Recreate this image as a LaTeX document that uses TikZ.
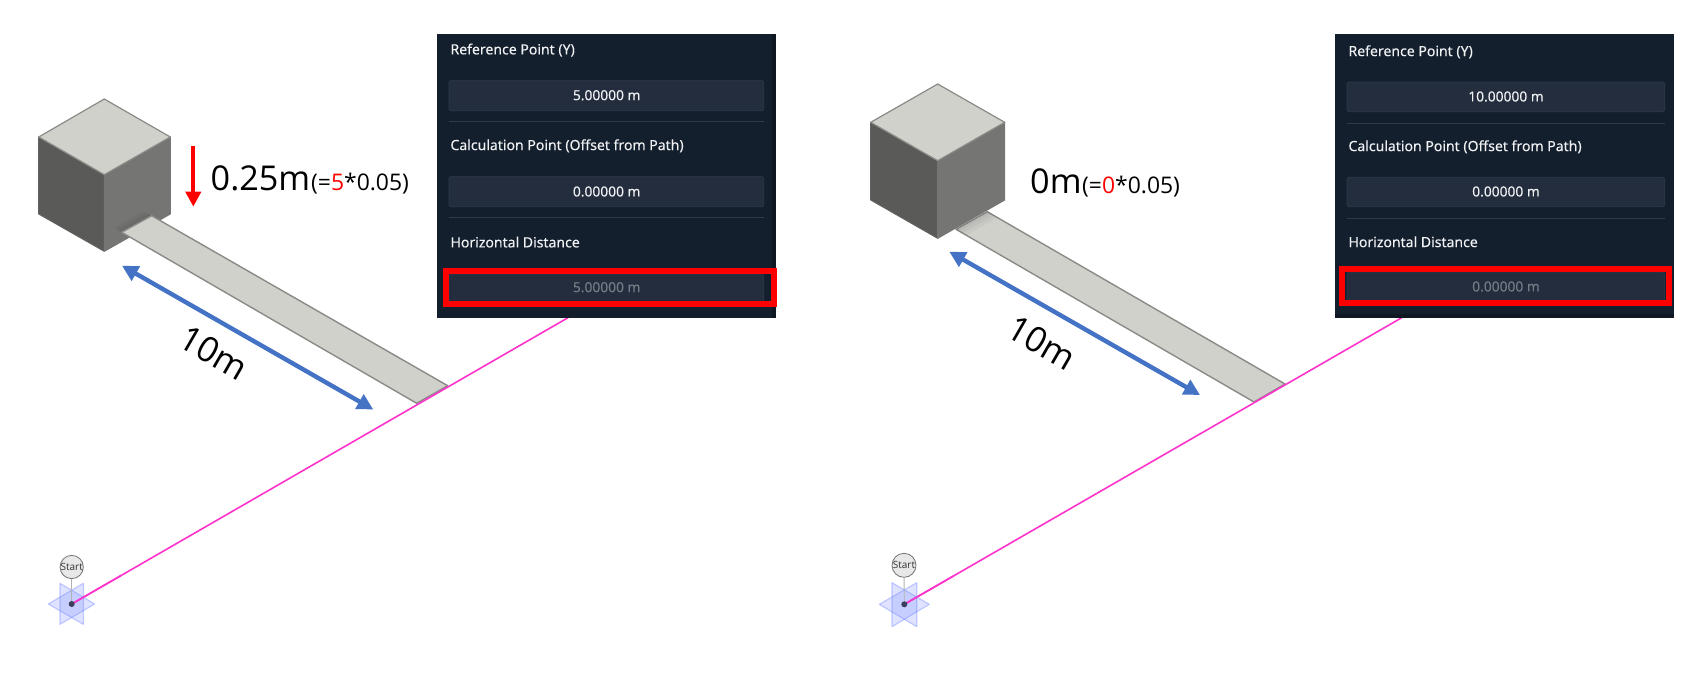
\documentclass[tikz,border=0pt]{standalone}
\usepackage{fontspec}
\setmainfont{Open Sans}
\newfontfamily\uifont{Noto Sans}[FakeBold=0.12]
\usetikzlibrary{arrows.meta,calc}
\definecolor{panelbg}{HTML}{141F2E}
\definecolor{paneledge}{HTML}{0E1722}
\definecolor{fieldbg}{HTML}{232D3E}
\definecolor{fieldline}{HTML}{2E3949}
\definecolor{uitext}{HTML}{F0F1F3}
\definecolor{uidim}{HTML}{737B85}
\definecolor{topface}{HTML}{D0D1CB}
\definecolor{leftface}{HTML}{5A5A59}
\definecolor{rightface}{HTML}{757573}
\definecolor{cubeedge}{HTML}{8A8B87}
\definecolor{bluearrow}{HTML}{4472C4}
\definecolor{pathpink}{HTML}{FF33CC}
\definecolor{starblue}{HTML}{6E84FF}
\definecolor{dotcolor}{HTML}{3A3F5C}
\tikzset{
  x=1pt,y=-1pt,
  topstyle/.style={fill=topface,draw=cubeedge,line width=1.2pt,line join=round},
  leftstyle/.style={fill=leftface,draw=cubeedge!70!black,line width=1pt,line join=round},
  rightstyle/.style={fill=rightface,draw=cubeedge!85!black,line width=1pt,line join=round},
  slabstyle/.style={fill=topface,draw=cubeedge,line width=1.4pt,line join=round},
  contactshade/.style={fill=black,fill opacity=.035,draw=none},
  pathline/.style={draw=pathpink,line width=1.6pt},
  dimarrow/.style={draw=bluearrow,line width=4.4pt,{Triangle[length=16pt,width=16pt]}-{Triangle[length=16pt,width=16pt]}},
  downarrow/.style={draw=red,line width=4.3pt,-{Triangle[length=15pt,width=15pt]}},
  panelbox/.style={fill=panelbg,draw=none},
  fieldbox/.style={fill=fieldbg,draw=fieldline,line width=.7pt,rounded corners=1.5pt},
  dividerline/.style={draw=fieldline,line width=1pt},
  redframe/.style={draw=red,line width=6pt},
  uilabel/.style={font=\uifont\fontsize{14.05}{16}\selectfont,text=uitext,anchor=west,inner sep=0pt,yshift=-.8pt},
  uivalue/.style={font=\uifont\fontsize{13.8}{16}\selectfont,text=uitext,inner sep=0pt,yshift=-.5pt},
  uidimval/.style={uivalue,text=uidim},
  bigtext/.style={font=\fontsize{34.2}{38}\selectfont,text=black,inner sep=0pt,anchor=base west},
  smalltext/.style={font=\fontsize{22.9}{26}\selectfont,text=black,inner sep=0pt,anchor=base west},
  dimtext/.style={font=\fontsize{35}{38}\selectfont,text=black,inner sep=0pt,rotate=-30},
  startbubble/.style={circle,draw=black!55,fill=black!9,line width=.8pt,inner sep=0pt,font=\fontsize{10}{11}\selectfont,text=black!80},
  stardot/.style={circle,fill=dotcolor,inner sep=0pt,minimum size=6pt},
  starfill/.style={fill=starblue,fill opacity=.22,draw=starblue,draw opacity=.4,line width=1.1pt,line join=round},
  stemline/.style={draw=black!30,line width=.9pt},
}
\begin{document}
\begin{tikzpicture}
\useasboundingbox (0,0) rectangle (1694,678);
\fill[white] (0,0) rectangle (1694,678);

% ---------- LEFT ----------
\coordinate (La) at (104.3,99);
\coordinate (Lb) at (38.7,137);
\coordinate (Lc) at (104.3,174.7);
\coordinate (Ld) at (170.3,137);
\coordinate (Le) at (38.7,214);
\coordinate (Lf) at (104.3,251.3);
\coordinate (Lg) at (170.3,214);
\path[leftstyle] (Lb) -- (Lc) -- (Lf) -- (Le) -- cycle;
\path[rightstyle] (Lc) -- (Ld) -- (Lg) -- (Lf) -- cycle;
\path[topstyle] (La) -- (Ld) -- (Lc) -- (Lb) -- cycle;
\coordinate (Ls1) at (121.7,232.3);
\coordinate (Ls2) at (151.7,215.7);
\coordinate (Ls3) at (447.7,385.7);
\coordinate (Ls4) at (416.7,403.3);
\foreach \d in {3,6,9}{
  \fill[contactshade] (Ls1) -- (Ls2) -- ($(Ls2)+(-.866*\d,-.5*\d)$) -- ($(Ls1)+(-.866*\d,-.5*\d)$) -- cycle;
}
\path[slabstyle] (Ls1) -- (Ls2) -- (Ls3) -- (Ls4) -- cycle;
\node[circle,inner sep=0pt,minimum size=0pt] (Lpm) at (71.7,604) {};
\coordinate (Lpe) at (568,317.7);
\draw[pathline] (Lpm) -- (Lpe);

\coordinate (Lda) at (122,265.7);
\coordinate (Ldb) at (373.3,409.5);
\draw[dimarrow] (Lda) -- (Ldb);
\node[dimtext] (Ldt) at (214,353) {10m};
\coordinate (Lra) at (193.3,146.3);
\coordinate (Lrb) at (193.3,206.7);
\draw[downarrow] (Lra) -- (Lrb);
\node[bigtext] (Lbig) at (210.5,190.7) {0.25m};
\node[smalltext] (Lsm) at (311,190.7) {(=\textcolor{red}{5}*0.05)};

\fill[panelbox] (437,34) rectangle (776,317.7);
\fill[paneledge] (771.7,34) rectangle (776,317.7);
\node[uilabel] (Ll1) at (450.3,49.3) {Reference Point (Y)};
\draw[fieldbox] (449,80.7) rectangle (763.7,110.7);
\node[uivalue] (Lv1) at (606.7,94.7) {5.00000 m};
\draw[dividerline] (449,121.7) -- (763.7,121.7);
\node[uilabel] (Ll2) at (450.3,145) {Calculation Point (Offset from Path)};
\draw[fieldbox] (449,176.7) rectangle (763.7,206.7);
\node[uivalue] (Lv2) at (606.7,191) {0.00000 m};
\draw[dividerline] (449,217.7) -- (763.7,217.7);
\node[uilabel] (Ll3) at (450.3,241.3) {Horizontal Distance};
\draw[fieldbox] (449,274) rectangle (763.7,302);
\node[uidimval] (Lv3) at (606.7,286.7) {5.00000 m};
\draw[redframe] (446,271) rectangle (774,304.4);

\node[startbubble,minimum size=22pt] (Lst) at (71.7,567) {Start};
\path[starfill] (48.3,604) -- (83.3,583.3) -- (83.3,624.3) -- cycle;
\path[starfill] (94.7,604) -- (60,583.3) -- (60,624.3) -- cycle;
\draw[stemline] (Lst) -- (Lpm);
\draw[pathline] (Lpm) -- ($(Lpm)!.1!(Lpe)$);
\node[stardot] (Ldot) at (Lpm) {};

% ---------- RIGHT ----------
\coordinate (Ra) at (937.7,84);
\coordinate (Rb) at (870.7,122.3);
\coordinate (Rc) at (937.7,160.7);
\coordinate (Rd) at (1004.7,122.3);
\coordinate (Re) at (870.7,200);
\coordinate (Rf) at (937.7,238.3);
\coordinate (Rg) at (1004.7,200);
\coordinate (Rs1) at (956,229.3);
\coordinate (Rs2) at (987.3,211.7);
\coordinate (Rs3) at (1285,384);
\coordinate (Rs4) at (1254,402);
\path[slabstyle] (Rs1) -- (Rs2) -- (Rs3) -- (Rs4) -- cycle;
\foreach \d in {4,8,12}{
  \fill[contactshade] (Rs1) -- (Rs2) -- ($(Rs2)+(.866*\d,.5*\d)$) -- ($(Rs1)+(.866*\d,.5*\d)$) -- cycle;
}
\path[leftstyle] (Rb) -- (Rc) -- (Rf) -- (Re) -- cycle;
\path[rightstyle] (Rc) -- (Rd) -- (Rg) -- (Rf) -- cycle;
\path[topstyle] (Ra) -- (Rd) -- (Rc) -- (Rb) -- cycle;
\node[circle,inner sep=0pt,minimum size=0pt] (Rpm) at (904.3,604.3) {};
\coordinate (Rpe) at (1401.7,317.7);
\draw[pathline] (Rpm) -- (Rpe);

\coordinate (Rda) at (949.3,251.7);
\coordinate (Rdb) at (1200,395);
\draw[dimarrow] (Rda) -- (Rdb);
\node[dimtext] (Rdt) at (1041.7,343) {10m};
\node[bigtext] (Rbig) at (1030,193.3) {0m};
\node[smalltext] (Rsm) at (1082,193.3) {(=\textcolor{red}{0}*0.05)};

\fill[panelbox] (1335,34) rectangle (1674,317.7);
\fill[paneledge] (1335,314) rectangle (1674,317.7);
\node[uilabel] (Rl1) at (1348.3,51) {Reference Point (Y)};
\draw[fieldbox] (1347,82) rectangle (1664.7,111.7);
\node[uivalue] (Rv1) at (1506,96) {10.00000 m};
\draw[dividerline] (1347,123) -- (1664.7,123);
\node[uilabel] (Rl2) at (1348.3,146) {Calculation Point (Offset from Path)};
\draw[fieldbox] (1347,177.3) rectangle (1664.7,206.7);
\node[uivalue] (Rv2) at (1506,191) {0.00000 m};
\draw[dividerline] (1347,218) -- (1664.7,218);
\node[uilabel] (Rl3) at (1348.3,241) {Horizontal Distance};
\draw[fieldbox] (1347,272) rectangle (1664.7,302);
\node[uidimval] (Rv3) at (1506,286) {0.00000 m};
\draw[redframe] (1342,269) rectangle (1669,303);

\node[startbubble,minimum size=24pt] (Rst) at (904,565.3) {Start};
\path[starfill] (879.3,604.3) -- (916.7,582.7) -- (916.7,626.7) -- cycle;
\path[starfill] (929.3,604.3) -- (892,582.7) -- (892,626.7) -- cycle;
\draw[stemline] (Rst) -- (Rpm);
\draw[pathline] (Rpm) -- ($(Rpm)!.1!(Rpe)$);
\node[stardot] (Rdot) at (Rpm) {};
\end{tikzpicture}
\end{document}
